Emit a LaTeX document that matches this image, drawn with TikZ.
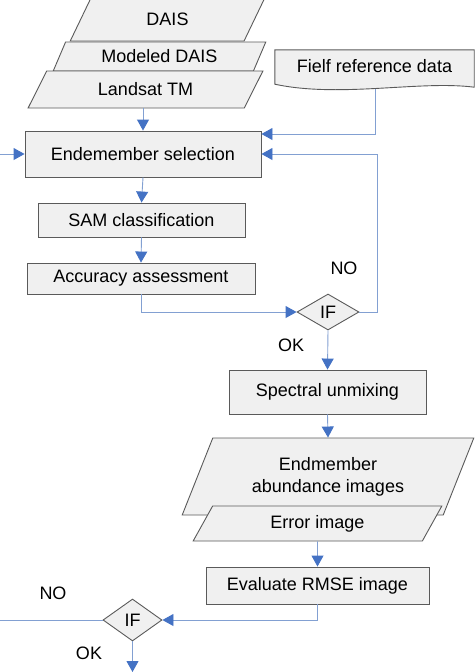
\documentclass[tikz,border=0pt]{standalone}
\usepackage{fontspec}
\setmainfont{Liberation Sans}
\usetikzlibrary{shapes.geometric,arrows.meta,calc,backgrounds}

\definecolor{boxfill}{RGB}{240,240,240}
\definecolor{boxline}{RGB}{90,90,90}
\definecolor{linkblue}{RGB}{130,160,210}
\definecolor{tipblue}{RGB}{68,114,196}

\tikzset{
	txt/.style={font=\fontsize{18}{22}\selectfont},
	procbox/.style={txt,rectangle,draw=boxline,fill=boxfill,line width=0.9pt,inner sep=0pt},
	databox/.style={txt,trapezium,trapezium stretches=true,draw=boxline,fill=boxfill,line width=0.9pt,inner sep=0pt,align=center},
	decision/.style={txt,diamond,draw=boxline,fill=boxfill,line width=0.9pt,inner sep=0pt},
	link/.style={draw=linkblue,line width=0.9pt},
	flow/.style={link,-{Triangle[width=12pt,length=11pt,color=tipblue]}}
}

\begin{document}
\begin{tikzpicture}[x=1pt,y=-1pt]
		\useasboundingbox (0,0) rectangle (474,672);
		
		\node[databox,trapezium left angle=66,trapezium right angle=114,minimum width=195,minimum height=43] (dais) at (167.5,19.5) {DAIS};
		\node[databox,trapezium left angle=60,trapezium right angle=120,minimum width=213,minimum height=29] (modeled) at (159.5,56.5) {Modeled DAIS};
		\node[databox,trapezium left angle=56,trapezium right angle=124,minimum width=235,minimum height=37] (landsat) at (145.5,89.5) {Landsat TM};
		
		\node[txt,minimum width=199,minimum height=32,inner sep=0pt] (field) at (374.5,66) {Fielf reference data};
		\begin{scope}[on background layer]
			\filldraw[draw=boxline,fill=boxfill,line width=0.9pt] (field.north west) -- (field.north east) -- ($(field.south east)+(0,5)$)
				.. controls ($(field.south east)+(-54,-2)$) and ($(field.south west)+(65,16)$) .. ($(field.south west)+(0,2)$) -- cycle;
		\end{scope}
		
		\node[procbox,minimum width=236,minimum height=46] (endsel) at (143,154) {Endemember selection};
		\node[procbox,minimum width=207,minimum height=34] (sam) at (141.5,220) {SAM classification};
		\node[procbox,minimum width=228,minimum height=31] (acc) at (141,278.5) {Accuracy assessment};
		\node[decision,minimum width=62,minimum height=36] (if1) at (328,312) {IF};
		\node[txt] (no1) at (344,268) {NO};
		\node[txt] (ok1) at (291,345) {OK};
		
		\node[procbox,minimum width=197,minimum height=44] (spec) at (327.5,392) {Spectral unmixing};
		\node[databox,trapezium left angle=62.5,trapezium right angle=117.5,minimum width=292,minimum height=77] (endab) at (328,476.5) {Endmember\\abundance images};
		\node[databox,trapezium left angle=62.5,trapezium right angle=117.5,minimum width=249,minimum height=35] (err) at (317.5,523.5) {Error image};
		\node[procbox,minimum width=223,minimum height=37] (eval) at (317.5,585.5) {Evaluate RMSE image};
		\node[decision,minimum width=59,minimum height=42] (if2) at (132.5,620) {IF};
		\node[txt] (no2) at (53,593) {NO};
		\node[txt] (ok2) at (89,653) {OK};
		
		\coordinate (inleft) at (0,154);
		\coordinate (fieldbot) at ($(field.south)+(0.5,7)$);
		\coordinate (fieldin) at ($(endsel.east)+(0,-20)$);
		\coordinate (noleft) at (0,620);
		\coordinate (okdown) at (132.5,672);
		
		\draw[flow] (endsel.north |- landsat.south) -- (endsel.north);
		\foreach \a/\b in {endsel/sam,sam/acc,if1/spec,spec/endab,err/eval}{
			\draw[flow] (\a.south) -- (\b.north);
		}
		\draw[flow] (inleft) -- (endsel.west);
		\draw[flow] (fieldbot) |- (fieldin);
		\draw[flow] (acc.south) |- (if1.west);
		\draw[flow] (if1.east) -- ++(18,0) |- (endsel.east);
		\draw[flow] (eval.south) |- (if2.east);
		\draw[link] (if2.west) -- (noleft);
		\draw[flow] (if2.south) -- (okdown);
		\end{tikzpicture}
\end{document}
